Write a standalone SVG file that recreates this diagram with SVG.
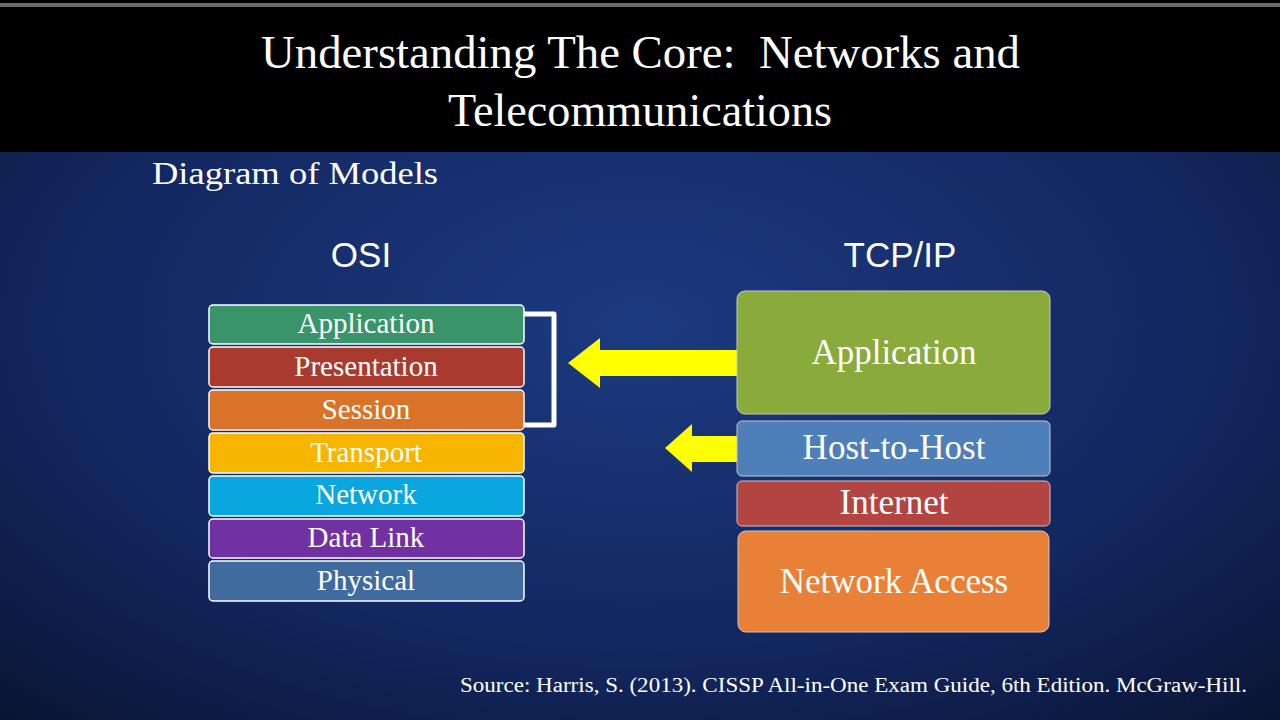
<svg xmlns="http://www.w3.org/2000/svg" width="1280" height="720" viewBox="0 0 1280 720">
<defs>
<radialGradient id="bg" cx="0.5" cy="0.45" r="0.75">
<stop offset="0" stop-color="#1c3a80"/><stop offset="0.6" stop-color="#132760"/><stop offset="1" stop-color="#0a1433"/>
</radialGradient>
</defs>
<style>
.serif{font-family:"Liberation Serif","DejaVu Serif",serif;fill:#fff}
.sans{font-family:"Liberation Sans",Arial,sans-serif;fill:#fff}
.osi{stroke:#fff;stroke-width:1.5}
.osit{font-size:29px;text-anchor:middle}
.tcp{stroke:#c8c8c8;stroke-width:1}
.tcpt{font-size:35px;text-anchor:middle}
.arrow{fill:#ffff00}
</style>
<rect width="1280" height="720" fill="url(#bg)"/>
<rect width="1280" height="152" fill="#000"/>
<rect y="3" width="1280" height="4" fill="#6a6a6a"/>
<text class="serif" x="261" y="68" font-size="46" textLength="759" lengthAdjust="spacingAndGlyphs" xml:space="preserve">Understanding The Core:  Networks and</text>
<text class="serif" x="448" y="126" font-size="46" textLength="384" lengthAdjust="spacingAndGlyphs">Telecommunications</text>
<text class="serif" x="152" y="184" font-size="32" textLength="286" lengthAdjust="spacingAndGlyphs">Diagram of Models</text>
<text class="sans" x="361" y="267" font-size="35" text-anchor="middle">OSI</text>
<text class="sans" x="900" y="267" font-size="35" text-anchor="middle">TCP/IP</text>
<g id="osi-application"><rect class="osi" x="209" y="305" width="315" height="39" rx="4" fill="#3a946a"/><text class="serif osit" x="366" y="333">Application</text></g>
<g id="osi-presentation"><rect class="osi" x="209" y="347" width="315" height="40" rx="4" fill="#a83b2e"/><text class="serif osit" x="366" y="376">Presentation</text></g>
<g id="osi-session"><rect class="osi" x="209" y="390" width="315" height="40" rx="4" fill="#d9732a"/><text class="serif osit" x="366" y="419">Session</text></g>
<g id="osi-transport"><rect class="osi" x="209" y="433" width="315" height="40" rx="4" fill="#f7b500"/><text class="serif osit" x="366" y="462">Transport</text></g>
<g id="osi-network"><rect class="osi" x="209" y="476" width="315" height="40" rx="4" fill="#0aa6e0"/><text class="serif osit" x="366" y="504">Network</text></g>
<g id="osi-datalink"><rect class="osi" x="209" y="519" width="315" height="39" rx="4" fill="#7231a3"/><text class="serif osit" x="366" y="547">Data Link</text></g>
<g id="osi-physical"><rect class="osi" x="209" y="561" width="315" height="40" rx="4" fill="#3f6b9e"/><text class="serif osit" x="366" y="590">Physical</text></g>
<g id="connectors">
<path d="M524 314 H554 V425 H524" fill="none" stroke="#fff" stroke-width="5" stroke-linejoin="round"/>
<polygon class="arrow" points="568,363 600,338 600,350 740,350 740,376 600,376 600,388"/>
<polygon class="arrow" points="665,448 692,424 692,436 740,436 740,462 692,462 692,472"/>
</g>
<g id="tcp-application"><rect class="tcp" x="737" y="291" width="313" height="123" rx="8" fill="#8aaa3b"/><text class="serif tcpt" x="894" y="364">Application</text></g>
<g id="tcp-host"><rect class="tcp" x="737" y="421" width="313" height="55" rx="5" fill="#4e7fb8"/><text class="serif tcpt" x="894" y="459">Host-to-Host</text></g>
<g id="tcp-internet"><rect class="tcp" x="737" y="481" width="313" height="45" rx="5" fill="#b24442"/><text class="serif tcpt" x="894" y="514">Internet</text></g>
<g id="tcp-netaccess"><rect class="tcp" x="738" y="531" width="311" height="101" rx="8" fill="#e88038"/><text class="serif tcpt" x="894" y="593">Network Access</text></g>
<text class="serif" x="460" y="692" font-size="20" textLength="787" lengthAdjust="spacingAndGlyphs">Source: Harris, S. (2013). CISSP All-in-One Exam Guide, 6th Edition. McGraw-Hill.</text>
</svg>
